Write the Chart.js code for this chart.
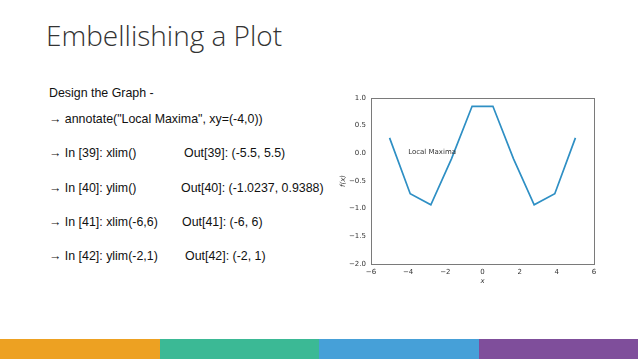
<!DOCTYPE html>
<html><head><meta charset="utf-8">
<script src="https://cdn.jsdelivr.net/npm/chart.js@4"></script>
<style>
html,body{margin:0;padding:0;background:#fff;width:638px;height:359px;overflow:hidden;position:relative;font-family:"Liberation Sans",Arial,sans-serif;}
#title{position:absolute;left:46px;top:16px;font-family:"Open Sans",sans-serif;font-weight:300;font-size:28px;color:#333;white-space:nowrap;letter-spacing:0px;}
.ln{position:absolute;font-size:12.4px;color:#111;white-space:nowrap;line-height:16px;}
.bar{position:absolute;top:339px;height:20px;}
#wrap{position:absolute;left:339px;top:85px;width:263px;height:200px;}
</style></head><body>
<div id="title">Embellishing a Plot</div>
<div class="ln" style="left:49px;top:85px">Design the Graph -</div>
<div class="ln" style="left:49px;top:111px">→ annotate("Local Maxima", xy=(-4,0))</div>
<div class="ln" style="left:49px;top:145px">→ In [39]: xlim()</div>
<div class="ln" style="left:184px;top:145px">Out[39]: (-5.5, 5.5)</div>
<div class="ln" style="left:49px;top:180px">→ In [40]: ylim()</div>
<div class="ln" style="left:181px;top:180px">Out[40]: (-1.0237, 0.9388)</div>
<div class="ln" style="left:49px;top:214px">→ In [41]: xlim(-6,6)</div>
<div class="ln" style="left:182px;top:214px">Out[41]: (-6, 6)</div>
<div class="ln" style="left:49px;top:248px">→ In [42]: ylim(-2,1)</div>
<div class="ln" style="left:185px;top:248px">Out[42]: (-2, 1)</div>
<div class="bar" style="left:0;width:160px;background:#EDA122"></div>
<div class="bar" style="left:160px;width:159px;background:#3BB995"></div>
<div class="bar" style="left:319px;width:160px;background:#46A0D8"></div>
<div class="bar" style="left:479px;width:159px;background:#7F4E9B"></div>
<div id="wrap"><canvas id="c" width="263" height="200"></canvas></div>
<script>
const xValues = [-5, -3.89, -2.78, -1.67, -0.56, 0.56, 1.67, 2.78, 3.89, 5];
const yValues = [0.28, -0.73, -0.93, -0.10, 0.85, 0.85, -0.10, -0.93, -0.73, 0.28];
const xTicks = [-6, -4, -2, 0, 2, 4, 6];
const yTicks = [-2.0, -1.5, -1.0, -0.5, 0.0, 0.5, 1.0];
const annotationText = "Local Maxima";
const annotationXY = [-4, 0];

const fmt = v => (v < 0 ? "\u2212" : "") + Math.abs(v);
const fmtY = v => (v < 0 ? "\u2212" : "") + Math.abs(v).toFixed(1);

const boxPlugin = {
  id: 'box',
  afterDatasetsDraw(chart) {
    const {ctx, chartArea: a, scales} = chart;
    ctx.save();
    ctx.strokeStyle = '#7a7a7a';
    ctx.lineWidth = 1;
    ctx.strokeRect(a.left + 0.5, a.top + 0.5, a.right - a.left, a.bottom - a.top);
    ctx.fillStyle = '#333';
    ctx.font = '7px "DejaVu Sans"';
    ctx.textAlign = 'left';
    ctx.textBaseline = 'alphabetic';
    ctx.fillText(annotationText, scales.x.getPixelForValue(annotationXY[0]), scales.y.getPixelForValue(annotationXY[1]) + 1);
    ctx.restore();
  }
};

new Chart(document.getElementById('c'), {
  type: 'scatter',
  data: {
    datasets: [{
      data: xValues.map((x, i) => ({x, y: yValues[i]})),
      showLine: true,
      borderColor: '#2e8fc4',
      borderWidth: 1.7,
      pointRadius: 0,
      tension: 0
    }]
  },
  options: {
    responsive: false,
    animation: false,
    plugins: {legend: {display: false}, tooltip: {enabled: false}},
    layout: {padding: {top: 13, right: 8, left: 0, bottom: 0}},
    scales: {
      x: {
        type: 'linear', min: -6, max: 6,
        afterBuildTicks: s => { s.ticks = xTicks.map(v => ({value: v})); },
        afterFit: s => { s.height = 21; },
        grid: {display: false, drawTicks: true, tickLength: 3, tickColor: '#555'},
        border: {display: false},
        ticks: {color: '#333', font: {family: 'DejaVu Sans', size: 7}, padding: 1, callback: v => fmt(v), maxRotation: 0},
        title: {display: true, text: 'x', color: '#333', font: {family: 'DejaVu Sans', size: 7, style: 'italic'}, padding: 0}
      },
      y: {
        type: 'linear', min: -2, max: 1,
        afterBuildTicks: s => { s.ticks = yTicks.map(v => ({value: v})); },
        afterFit: s => { s.width = 32; },
        grid: {display: false, drawTicks: true, tickLength: 3, tickColor: '#555'},
        border: {display: false},
        ticks: {color: '#333', font: {family: 'DejaVu Sans', size: 7}, padding: 2, callback: v => fmtY(v)},
        title: {display: true, text: 'f(x)', color: '#333', font: {family: 'DejaVu Sans', size: 7, style: 'italic'}, padding: 0}
      }
    }
  },
  plugins: [boxPlugin]
});
</script>
</body></html>
